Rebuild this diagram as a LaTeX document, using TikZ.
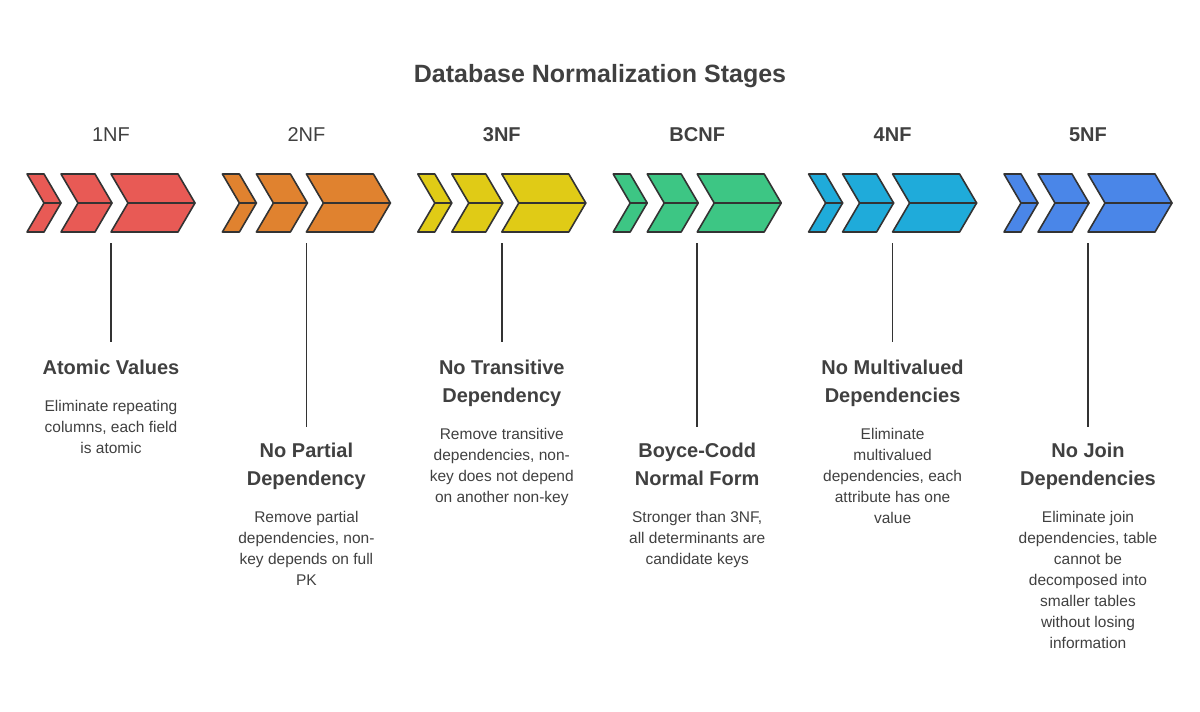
\documentclass[tikz,border=0pt]{standalone}
\usepackage{fontspec}
\setmainfont{Liberation Sans}
\begin{document}
\begin{tikzpicture}[x=1pt,y=-1pt,
  chev/.style={draw=black!80,line width=1.6pt,line join=round},
  stage/.style={font=\fontsize{20}{24}\selectfont,text=black!75,anchor=base},
  head/.style={font=\bfseries\fontsize{20}{28}\selectfont,text=black!75,align=center,anchor=north,inner sep=0},
  body/.style={font=\fontsize{15.5}{21}\selectfont,text=black!75,align=center,anchor=north,inner sep=0},
  vline/.style={draw=black!80,line width=1.6pt}]
\useasboundingbox (0,0) rectangle (1200,712);
\node[font=\bfseries\fontsize{25}{30}\selectfont,text=black!75,anchor=base] (title) at (600,82) {Database Normalization Stages};
\definecolor{c1}{HTML}{E85A55}\definecolor{c2}{HTML}{E0822F}\definecolor{c3}{HTML}{E0CB16}
\definecolor{c4}{HTML}{3DC684}\definecolor{c5}{HTML}{1FABDA}\definecolor{c6}{HTML}{4A86E8}
\newcommand\chevgroup[3]{%
 \begin{scope}[xshift=#1]
  \foreach \a/\b in {27/44,61/95,111/178}{
   \path[chev,fill=#2] (\a,174) -- (\b,174) -- (\b+17,203) -- (\a+17,203) -- cycle;
   \path[chev,fill=#2] (\a,232) -- (\b,232) -- (\b+17,203) -- (\a+17,203) -- cycle;
  }
 \end{scope}
 \node[stage] (s#3) at (#1+111,141) {};}
\chevgroup{0}{c1}{1}\chevgroup{195.4}{c2}{2}\chevgroup{390.8}{c3}{3}
\chevgroup{586.2}{c4}{4}\chevgroup{781.6}{c5}{5}\chevgroup{977}{c6}{6}
\node[stage] (l1) at (111,141) {1NF};
\node[stage] (l2) at (306.4,141) {2NF};
\node[stage,font=\bfseries\fontsize{20}{24}\selectfont] (l3) at (501.8,141) {3NF};
\node[stage,font=\bfseries\fontsize{20}{24}\selectfont] (l4) at (697.2,141) {BCNF};
\node[stage,font=\bfseries\fontsize{20}{24}\selectfont] (l5) at (892.6,141) {4NF};
\node[stage,font=\bfseries\fontsize{20}{24}\selectfont] (l6) at (1088,141) {5NF};
\coordinate (t1) at (111,243); \coordinate (e1) at (111,342);
\coordinate (t2) at (306.4,243); \coordinate (e2) at (306.4,427);
\coordinate (t3) at (501.8,243); \coordinate (e3) at (501.8,342);
\coordinate (t4) at (697.2,243); \coordinate (e4) at (697.2,427);
\coordinate (t5) at (892.6,243); \coordinate (e5) at (892.6,342);
\coordinate (t6) at (1088,243); \coordinate (e6) at (1088,427);
\foreach \i in {1,...,6}{\draw[vline] (t\i) -- (e\i);}
\node[head] (h1) at (111,360) {Atomic Values};
\node[body] (b1) at (111,400) {Eliminate repeating\\columns, each field\\is atomic};
\node[head] (h2) at (306.4,443) {No Partial\\Dependency};
\node[body] (b2) at (306.4,511) {Remove partial\\dependencies, non-\\key depends on full\\PK};
\node[head] (h3) at (501.8,360) {No Transitive\\Dependency};
\node[body] (b3) at (501.8,428) {Remove transitive\\dependencies, non-\\key does not depend\\on another non-key};
\node[head] (h4) at (697.2,443) {Boyce-Codd\\Normal Form};
\node[body] (b4) at (697.2,511) {Stronger than 3NF,\\all determinants are\\candidate keys};
\node[head] (h5) at (892.6,360) {No Multivalued\\Dependencies};
\node[body] (b5) at (892.6,428) {Eliminate\\multivalued\\dependencies, each\\attribute has one\\value};
\node[head] (h6) at (1088,443) {No Join\\Dependencies};
\node[body] (b6) at (1088,511) {Eliminate join\\dependencies, table\\cannot be\\decomposed into\\smaller tables\\without losing\\information};
\end{tikzpicture}
\end{document}
